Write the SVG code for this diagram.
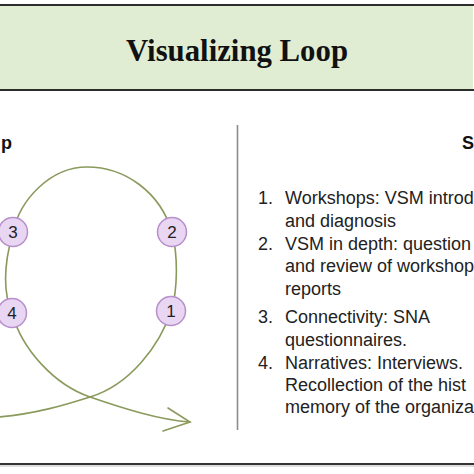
<svg xmlns="http://www.w3.org/2000/svg" width="474" height="474" viewBox="0 0 474 474">
<style>
.loop{fill:none;stroke:#8a9a5c;stroke-width:1.6;stroke-linecap:round}
.node circle{fill:#e9d6f2;stroke:#b78fcb;stroke-width:1.5}
.node text{font-family:"Liberation Sans",Arial,sans-serif;font-size:17px;fill:#222;text-anchor:middle}
.item{font-family:"Liberation Sans",Arial,sans-serif;font-size:18px;fill:#222}
.head{font-family:"Liberation Sans",Arial,sans-serif;font-size:18px;font-weight:bold;fill:#111}
</style>
<rect x="0" y="0" width="474" height="474" fill="#ffffff"/>
<g id="header">
<rect x="-2" y="5" width="475" height="85" fill="#e1edd3"/>
<line x1="0" y1="5" x2="474" y2="5" stroke="#2c2c2c" stroke-width="2.2"/>
<line x1="0" y1="90" x2="474" y2="90" stroke="#2c2c2c" stroke-width="2.2"/>
<text x="237" y="61" text-anchor="middle" font-family="Liberation Serif,'Times New Roman',serif" font-weight="bold" font-size="31" fill="#111" textLength="222" lengthAdjust="spacingAndGlyphs">Visualizing  Loop</text>
</g>
<line x1="0" y1="464" x2="474" y2="464" stroke="#333" stroke-width="2"/>
<line x1="0" y1="466" x2="474" y2="466" stroke="#bbb" stroke-width="1"/>
<line x1="237.5" y1="125" x2="237.5" y2="430" stroke="#8c8c8c" stroke-width="1.6"/>
<text class="head" x="1" y="149">p</text>
<text class="head" x="462" y="149">S</text>
<g id="connectors">
<path class="loop" d="M -2 417 C 35 414 65 405 90 397 C 130 385 160 345 171 311 C 178 290 178 255 172 232 C 160 192 125 167 87 167 C 50 167 20 200 13 232 C 5 260 2 290 12 313 C 22 350 55 385 90 397 C 125 409 160 420 190 422"/>
<path class="loop" d="M 168 408 L 190 422 L 163 431"/>
</g>
<g id="node1" class="node"><circle cx="171" cy="311" r="14.5"/><text x="171" y="317">1</text></g>
<g id="node2" class="node"><circle cx="172" cy="232" r="14.5"/><text x="172" y="238">2</text></g>
<g id="node3" class="node"><circle cx="13" cy="232" r="14.5"/><text x="13" y="238">3</text></g>
<g id="node4" class="node"><circle cx="12" cy="313" r="14.5"/><text x="12" y="319">4</text></g>
<g id="list">
<text class="item" x="258" y="204">1.</text>
<text class="item" x="285" y="204">Workshops: VSM introd</text>
<text class="item" x="285" y="227">and diagnosis</text>
<text class="item" x="258" y="250">2.</text>
<text class="item" x="285" y="250">VSM in depth: question</text>
<text class="item" x="285" y="272">and review of workshop</text>
<text class="item" x="285" y="295">reports</text>
<text class="item" x="258" y="323">3.</text>
<text class="item" x="285" y="323">Connectivity: SNA</text>
<text class="item" x="285" y="346">questionnaires.</text>
<text class="item" x="258" y="369">4.</text>
<text class="item" x="285" y="369">Narratives: Interviews.</text>
<text class="item" x="285" y="391">Recollection of the hist</text>
<text class="item" x="285" y="413">memory of the organiza</text>
</g>
</svg>
